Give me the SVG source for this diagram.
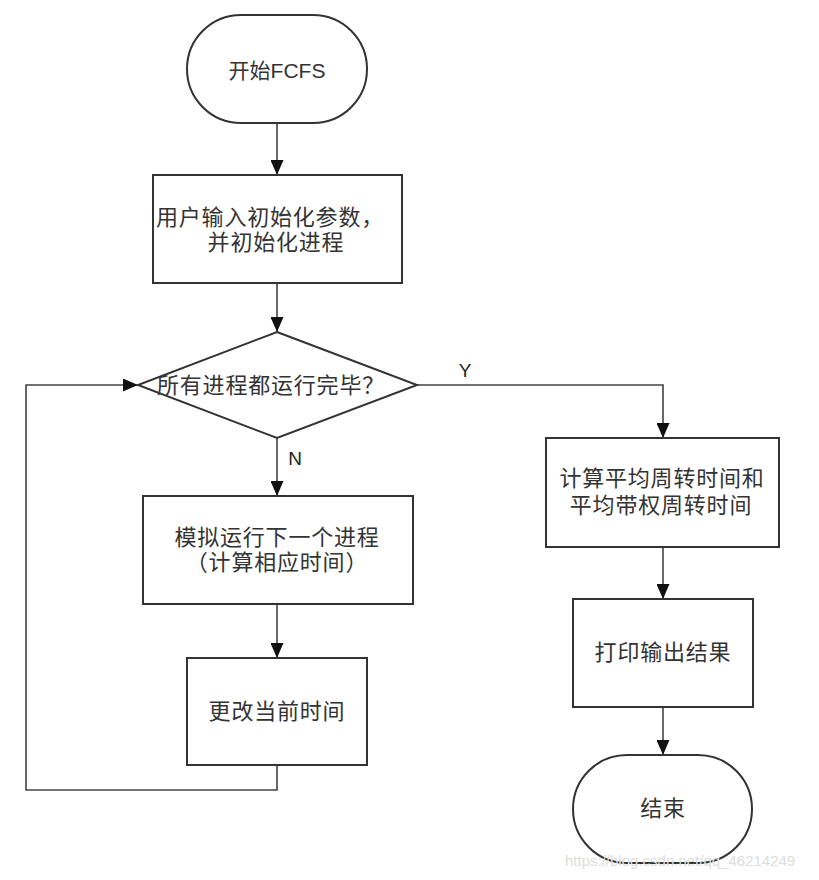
<svg xmlns="http://www.w3.org/2000/svg" width="819" height="880" viewBox="0 0 819 880">
<style>
.shape{fill:#fff;stroke:#333;stroke-width:2}
.conn{fill:none;stroke:#444;stroke-width:1.6}
.t{font-family:"Liberation Sans","Noto Sans CJK SC",sans-serif;font-size:22px;letter-spacing:0.8px;fill:#333;text-anchor:middle;dominant-baseline:central}
.lbl{font-family:"Liberation Sans",Arial,sans-serif;font-size:19px;fill:#222;text-anchor:middle;dominant-baseline:central}
.wm{font-family:"Liberation Sans",Arial,sans-serif;font-size:15px;fill:#ddd}
</style>
<defs>
<marker id="arr" markerUnits="userSpaceOnUse" markerWidth="15" markerHeight="13" refX="15" refY="6.5" orient="auto">
<path d="M0,0 L15,6.5 L0,13 z" fill="#111"/>
</marker>
</defs>
<rect width="819" height="880" fill="#fff"/>
<g id="connectors">
<line class="conn" x1="277" y1="123" x2="277" y2="175" marker-end="url(#arr)"/>
<line class="conn" x1="277" y1="283" x2="277" y2="332" marker-end="url(#arr)"/>
<line class="conn" x1="277" y1="438" x2="277" y2="496" marker-end="url(#arr)"/>
<line class="conn" x1="277" y1="604" x2="277" y2="658" marker-end="url(#arr)"/>
<polyline class="conn" points="277,765 277,790 26,790 26,385 138,385" marker-end="url(#arr)"/>
<polyline class="conn" points="417,385 663,385 663,438" marker-end="url(#arr)"/>
<line class="conn" x1="663" y1="547" x2="663" y2="599" marker-end="url(#arr)"/>
<line class="conn" x1="663" y1="707" x2="663" y2="755" marker-end="url(#arr)"/>
<text class="lbl" x="465" y="370">Y</text>
<text class="lbl" x="295" y="458">N</text>
</g>
<g id="start">
<rect class="shape" x="187" y="15" width="180" height="108" rx="54" ry="54"/>
<text class="t" x="277" y="70" style="font-size:21px;letter-spacing:0">开始FCFS</text>
</g>
<g id="init">
<rect class="shape" x="153" y="175" width="249" height="108"/>
<text class="t" x="270" y="217">用户输入初始化参数，</text>
<text class="t" x="276" y="242">并初始化进程</text>
</g>
<g id="decision">
<polygon class="shape" points="277,332 417,385 277,438 138,385"/>
<text class="t" x="271" y="385">所有进程都运行完毕？</text>
</g>
<g id="simulate">
<rect class="shape" x="143" y="496" width="270" height="108"/>
<text class="t" x="277" y="537">模拟运行下一个进程</text>
<text class="t" x="277" y="562">（计算相应时间）</text>
</g>
<g id="update">
<rect class="shape" x="187" y="658" width="180" height="107"/>
<text class="t" x="277" y="711">更改当前时间</text>
</g>
<g id="calc">
<rect class="shape" x="546" y="438" width="233" height="109"/>
<text class="t" x="662" y="478">计算平均周转时间和</text>
<text class="t" x="661" y="505">平均带权周转时间</text>
</g>
<g id="print">
<rect class="shape" x="573" y="599" width="180" height="108"/>
<text class="t" x="663" y="652">打印输出结果</text>
</g>
<g id="end">
<rect class="shape" x="573" y="755" width="179" height="108" rx="54" ry="54"/>
<text class="t" x="663" y="808">结束</text>
</g>
<text class="wm" x="565" y="866">https://blog.csdn.net/qq_46214249</text>
</svg>
